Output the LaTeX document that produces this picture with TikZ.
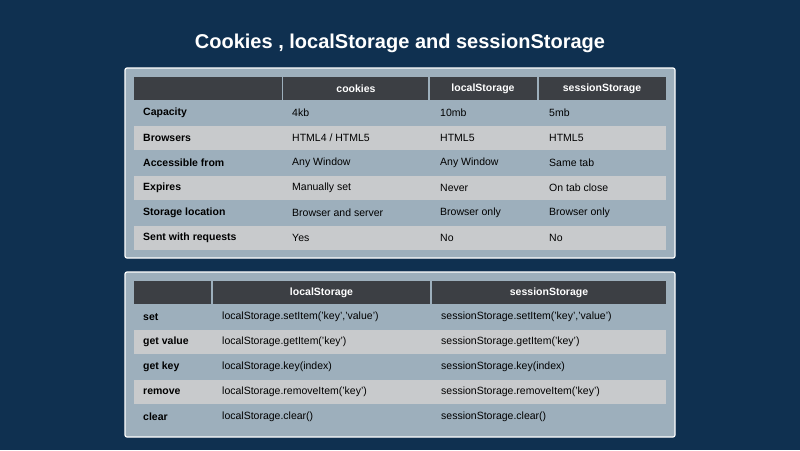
\documentclass[tikz,border=0pt]{standalone}
\usepackage{fontspec}
\setmainfont{Liberation Sans}
\definecolor{bg}{HTML}{0F3050}
\definecolor{panel}{HTML}{9DAFBC}
\definecolor{hdr}{HTML}{3C3F44}
\definecolor{lite}{HTML}{C8CACC}
\begin{document}
\begin{tikzpicture}[x=1pt,y=-1pt,
  cell/.style={anchor=west,font=\fontsize{10.5}{12}\selectfont,text=black,inner sep=0pt},
  key/.style={cell,font=\fontsize{10.5}{12}\selectfont\bfseries},
  head/.style={text=white,font=\fontsize{10.5}{12}\selectfont\bfseries,inner sep=0pt},
  panelbox/.style={fill=panel,draw=white,line width=1.2pt,rounded corners=2pt}]
\fill[bg] (0,0) rectangle (800,450);
\node[text=white,font=\fontsize{20}{24}\selectfont\bfseries] (title) at (400,43) {Cookies , localStorage and sessionStorage};
% table 1
\draw[panelbox] (125,68) rectangle (675,258);
\foreach \a/\b in {134/282,283/428,430/537,539/666} \fill[hdr] (\a,77) rectangle (\b,100);
\foreach \y in {126,176,226} \fill[lite] (134,\y) rectangle (666,\y+24);
\node[head] (h1) at (356,88.5) {cookies};
\node[head] (h2) at (483,88.5) {localStorage};
\node[head] (h3) at (602,88.5) {sessionStorage};
\foreach \i/\k/\c/\l/\s in {0/Capacity/4kb/10mb/5mb,1/Browsers/HTML4 \slash\ HTML5/HTML5/HTML5,2/Accessible from/Any Window/Any Window/Same tab,3/Expires/Manually set/Never/On tab close,4/Storage location/Browser and server/Browser only/Browser only,5/Sent with requests/Yes/No/No}{
  \node[key] (ka\i) at (143,113+25*\i) {\k};
  \node[cell] (ca\i) at (292,113+25*\i) {\c};
  \node[cell] (la\i) at (440,113+25*\i) {\l};
  \node[cell] (sa\i) at (549,113+25*\i) {\s};
}
% table 2
\draw[panelbox] (125,272) rectangle (675,437);
\foreach \a/\b in {134/211,213/430,432/666} \fill[hdr] (\a,281) rectangle (\b,304);
\foreach \y in {330,380} \fill[lite] (134,\y) rectangle (666,\y+24);
\node[head] (g1) at (321.5,292.5) {localStorage};
\node[head] (g2) at (549,292.5) {sessionStorage};
\foreach \i/\k/\l/\s in {0/set/{localStorage.setItem('key','value')}/{sessionStorage.setItem('key','value')},1/get value/localStorage.getItem('key')/sessionStorage.getItem('key'),2/get key/localStorage.key(index)/sessionStorage.key(index),3/remove/localStorage.removeItem('key')/sessionStorage.removeItem('key'),4/clear/localStorage.clear()/sessionStorage.clear()}{
  \node[key] (kb\i) at (143,317+25*\i) {\k};
  \node[cell] (lb\i) at (222,317+25*\i) {\l};
  \node[cell] (sb\i) at (441,317+25*\i) {\s};
}
\end{tikzpicture}
\end{document}
